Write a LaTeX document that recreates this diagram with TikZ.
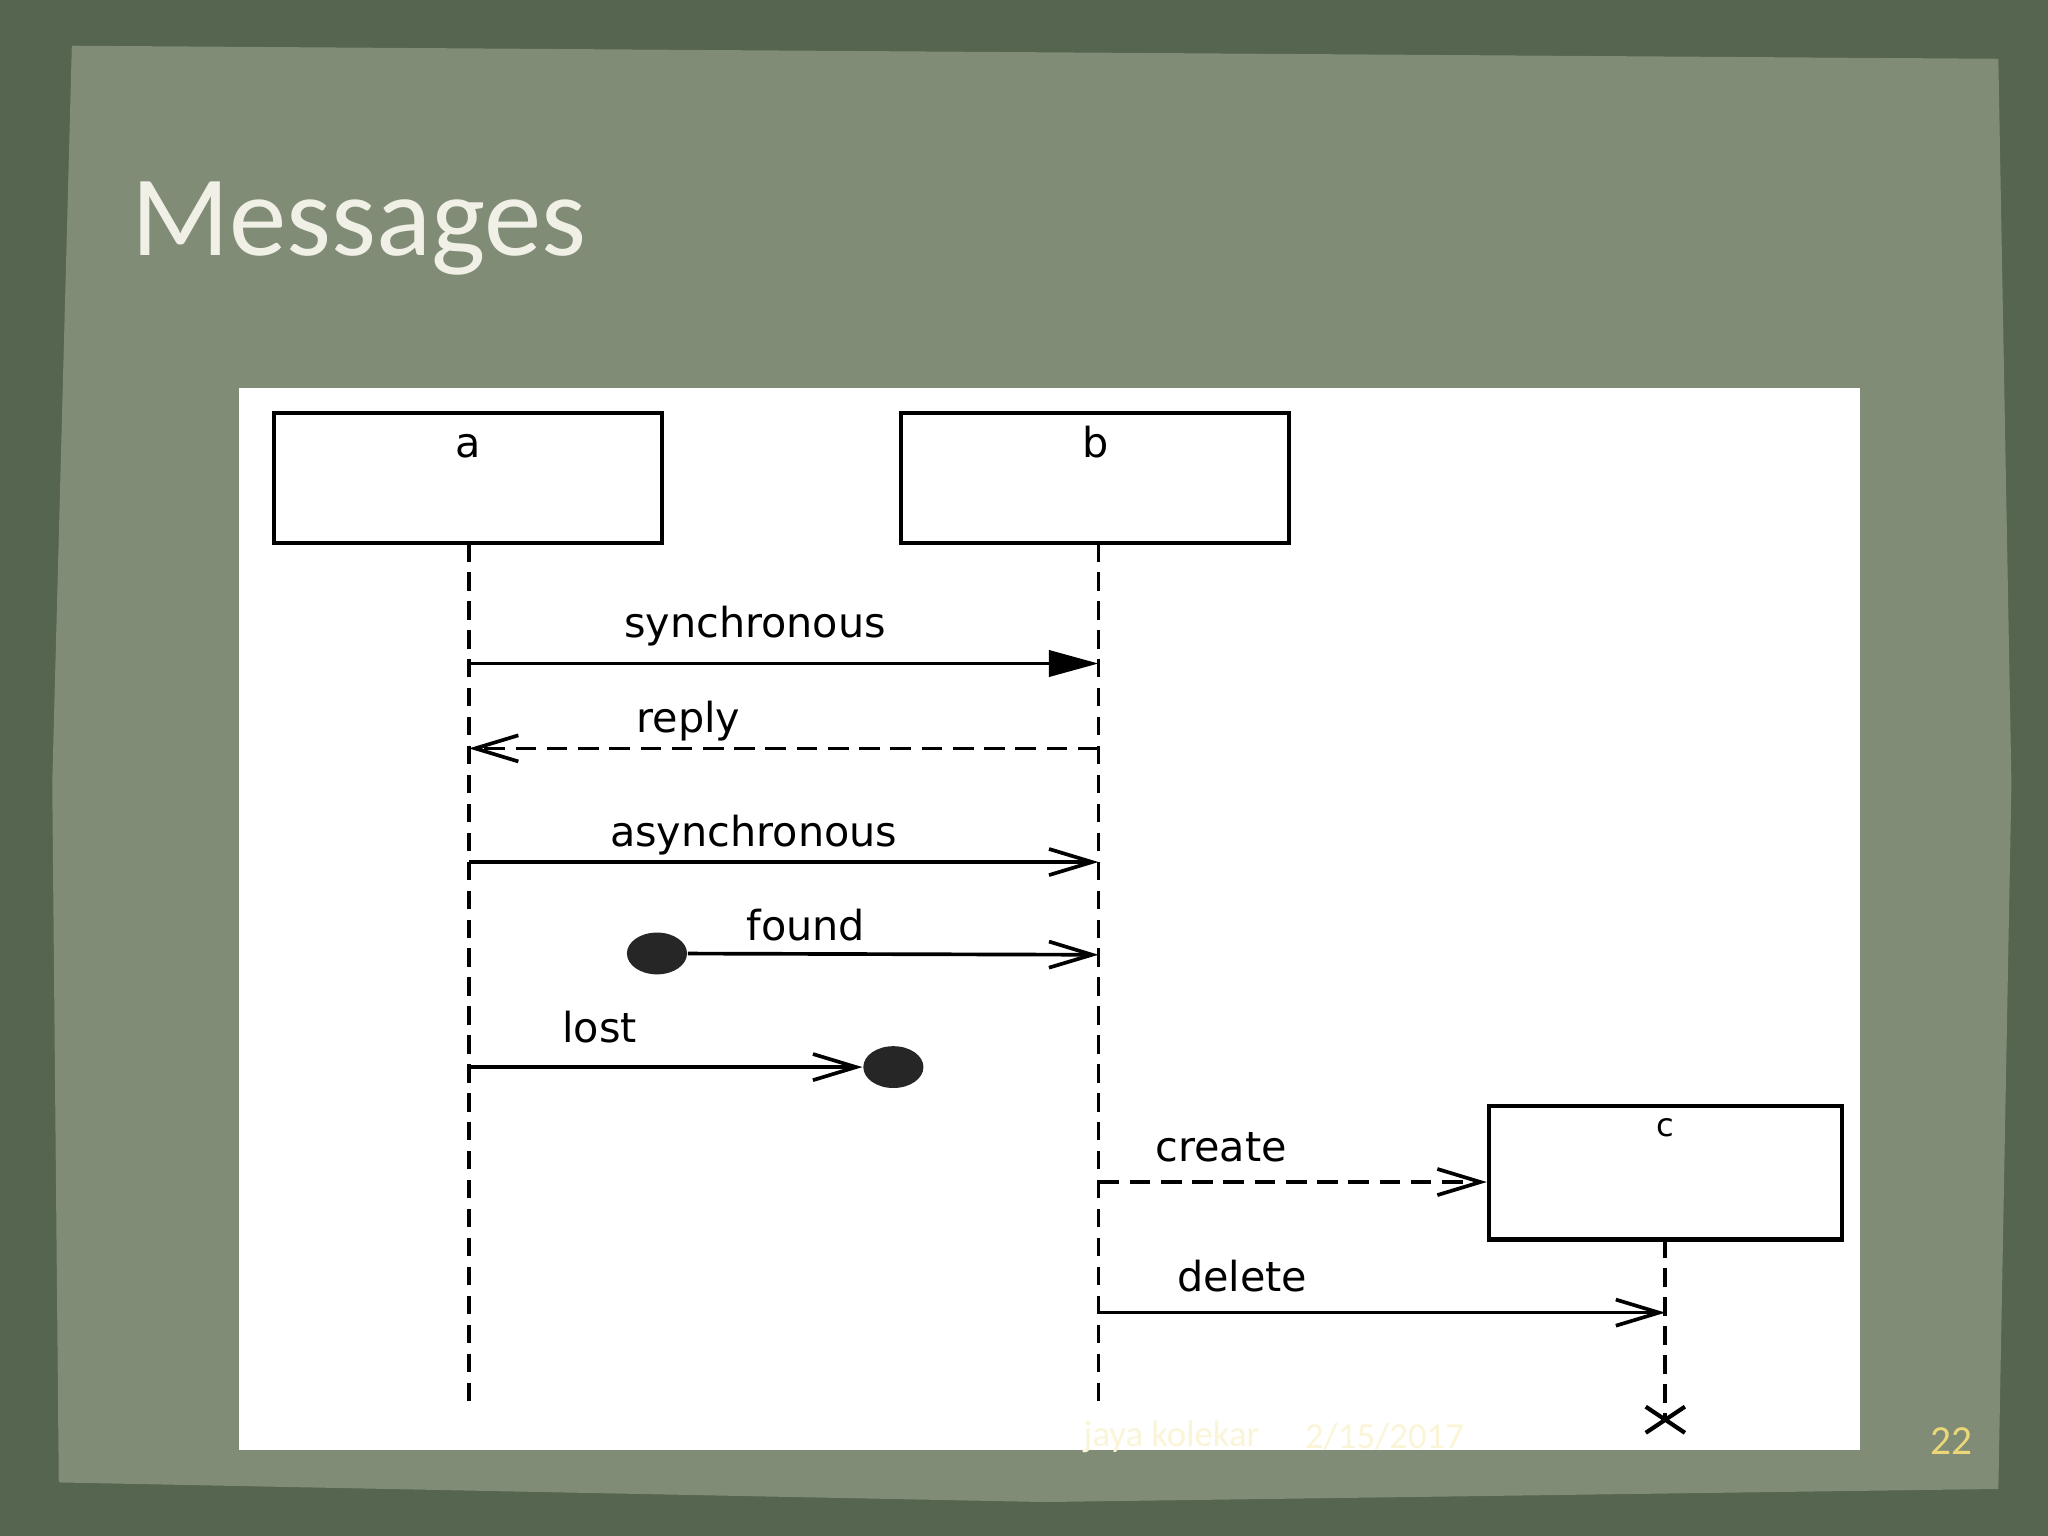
\documentclass[tikz,border=0pt]{standalone}
\usepackage{fontspec}
\setmainfont{DejaVu Sans}
\newfontfamily\titlefont{Carlito}
\usetikzlibrary{arrows.meta,calc,shapes.geometric}
\begin{document}
\begin{tikzpicture}[x=0.01cm,y=-0.01cm,
  obj/.style={draw,line width=0.9pt,fill=white,inner sep=0pt},
  objlabel/.style={font=\fontsize{9}{10}\selectfont,anchor=base},
  life/.style={line width=0.8pt,dash pattern=on 4pt off 2.3pt},
  msg/.style={line width=0.8pt},
  lbl/.style={font=\fontsize{9}{11}\selectfont,anchor=base},
  openarr/.style={-{Straight Barb[length=3.3mm,width=2mm]}},
  filledarr/.style={-{Triangle[length=3.8mm,width=2mm]}},
  blob/.style={ellipse,fill=black!85,minimum width=0.46cm,minimum height=0.32cm,inner sep=0pt}]
\useasboundingbox (0,0) rectangle (1568,1176);
\fill[fill={rgb,255:red,86;green,101;blue,80}] (0,0) rectangle (1568,1176);
\fill[fill={rgb,255:red,128;green,140;blue,118}] (55,35) -- (1530,45) -- (1540,600) -- (1530,1140) -- (800,1150) -- (45,1135) -- (40,600) -- cycle;
\node[anchor=west,text={rgb,255:red,240;green,240;blue,230},font=\titlefont\fontsize{25}{28}\selectfont] (title) at (88,175) {Messages};
\fill[white] (183,297) rectangle (1424,1110);
% objects
\node[obj,minimum width=2.97cm,minimum height=1cm] (a) at (358.5,366) {};
\node[objlabel] at (358.5,350) {a};
\node[obj,minimum width=2.97cm,minimum height=1cm] (b) at (838.5,366) {};
\node[objlabel] at (838.5,350) {b};
\node[obj,minimum width=2.7cm,minimum height=1.02cm] (c) at (1275,898) {};
\node[objlabel,font=\fontsize{7}{8}\selectfont] at (1275,870) {c};
% lifelines
\coordinate (aE) at (359,1075);
\coordinate (bE) at (841,1075);
\coordinate (cE) at (1275,1087);
\draw[life] (359,416) -- (aE);
\draw[life] (841,416) -- (bE);
\draw[life] (1275,949) -- (cE);
\draw[line width=0.9pt] ($(cE)+(-15,-10)$) -- ($(cE)+(15,10)$) ($(cE)+(-15,10)$) -- ($(cE)+(15,-10)$);
% message endpoints
\coordinate (s1) at (359,508); \coordinate (s2) at (841,508);
\coordinate (r1) at (841,573); \coordinate (r2) at (359,573);
\coordinate (as1) at (359,660); \coordinate (as2) at (841,660);
\node[blob] (fdot) at (503,730) {};
\coordinate (f2) at (841,731);
\coordinate (l1) at (359,817);
\node[blob] (ldot) at (684,817) {};
\coordinate (cr1) at (841,905);
\coordinate (d1) at (841,1005); \coordinate (d2) at (1275,1005);
\draw[msg,filledarr] (s1) -- (s2);
\node[lbl] at (578,488) {synchronous};
\draw[msg,openarr,dash pattern=on 4.5pt off 2.3pt] (r1) -- (r2);
\node[lbl] at (527,561) {reply};
\draw[msg,openarr] (as1) -- (as2);
\node[lbl] at (577,648) {asynchronous};
\draw[msg,openarr] (fdot) -- (f2);
\node[lbl] at (617,720) {found};
\draw[msg,openarr] (l1) -- (ldot.west);
\node[lbl] at (459,798) {lost};
\draw[msg,openarr,dash pattern=on 4.5pt off 2.3pt] (cr1) -- (c.west |- cr1);
\node[lbl] at (935,889) {create};
\draw[msg,openarr] (d1) -- (d2);
\node[lbl] at (951,989) {delete};
% footer
\node[text={rgb,255:red,250;green,245;blue,215},font=\titlefont\fontsize{8}{9}\selectfont] (f1) at (897,1100) {jaya kolekar};
\node[text={rgb,255:red,250;green,245;blue,215},font=\titlefont\fontsize{8}{9}\selectfont] (f2t) at (1060,1100) {2/15/2017};
\node[text={rgb,255:red,235;green,215;blue,120},font=\titlefont\fontsize{9}{10}\selectfont] (pg) at (1494,1103) {22};
\end{tikzpicture}
\end{document}
